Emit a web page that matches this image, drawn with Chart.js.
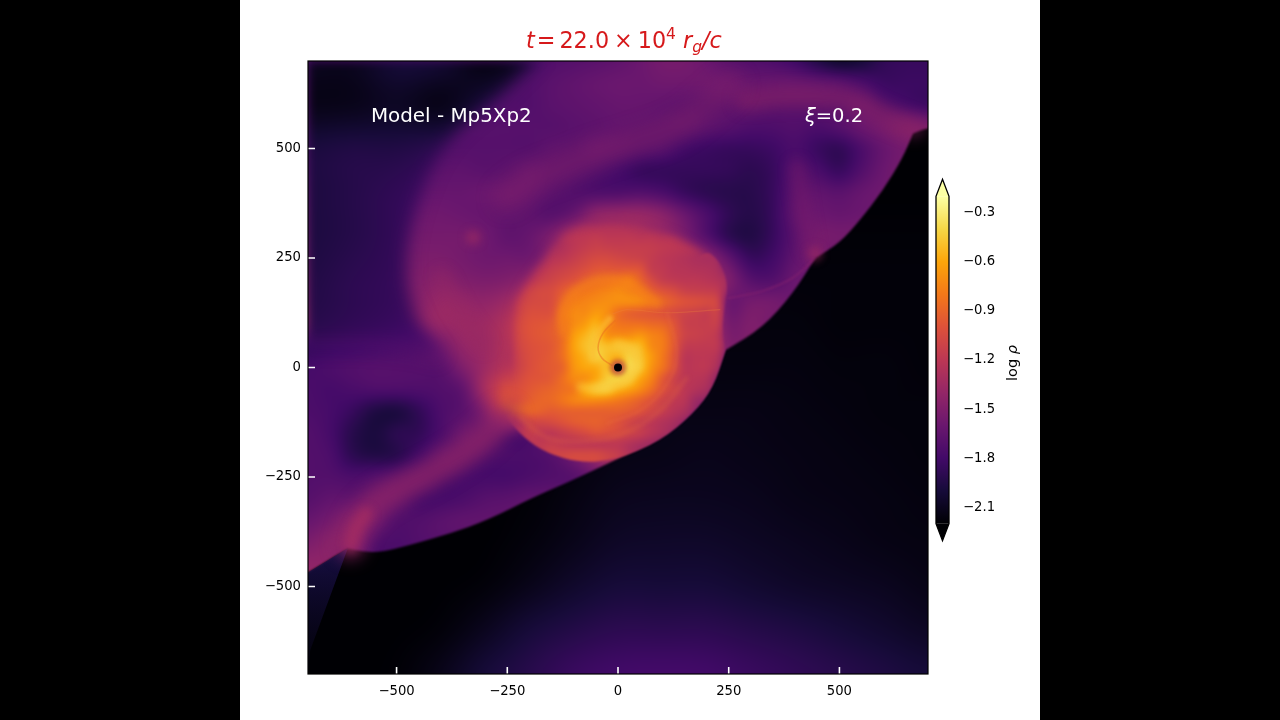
<!DOCTYPE html>
<html><head><meta charset="utf-8">
<script src="https://cdn.jsdelivr.net/npm/chart.js@4"></script>
<style>
html,body{margin:0;padding:0;background:#000;width:1280px;height:720px;overflow:hidden}
#paper{position:absolute;left:240px;top:0;width:800px;height:720px;background:#fff}
#main{position:absolute;left:0;top:0}
#bar{position:absolute;left:925px;top:170px}
</style></head><body>
<div id="paper"></div>
<canvas id="main" width="1280" height="720" style="width:1280px;height:720px"></canvas>
<canvas id="bar" width="115" height="380" style="width:115px;height:380px"></canvas>
<script>
const xTickValues=[-500,-250,0,250,500];
const yTickValues=[-500,-250,0,250,500];
const barTickValues=[-2.1,-1.8,-1.5,-1.2,-0.9,-0.6,-0.3];
const infernoStops=['#000004','#160b39','#420a68','#6a176e','#932667','#bc3754','#dd513a','#f37819','#fca50a','#f6d746','#fcffa4'];
const logRhoMin=-2.2, logRhoMax=-0.2;

// unshocked ambient gas
const ambientX=[-700,-600,-500,-400,-300,-200,-100,0,100,200,300,400,500,600,700];
const ambientY=[700,600,500,400,300,200,100,0,-100,-200,-300,-400,-500,-600,-700];
const ambientRows=[
[-2.2,-2.2,-2.2,-2.2,-2.2,-2.2,-2.2,-2.2,-2.2,-2.2,-2.2,-2.2,-2.2,-2.2,-2.2],
[-2.2,-2.2,-2.2,-2.2,-2.2,-2.2,-2.2,-2.2,-2.2,-2.2,-2.2,-2.2,-2.2,-2.2,-2.2],
[-2.2,-2.2,-2.2,-2.2,-2.2,-2.2,-2.2,-2.2,-2.2,-2.2,-2.2,-2.2,-2.2,-2.2,-2.2],
[-2.2,-2.2,-2.2,-2.2,-2.2,-2.2,-2.2,-2.2,-2.2,-2.2,-2.2,-2.2,-2.2,-2.2,-2.2],
[-2.2,-2.2,-2.2,-2.2,-2.2,-2.2,-2.2,-2.2,-2.2,-2.2,-2.19,-2.19,-2.19,-2.19,-2.19],
[-2.2,-2.2,-2.2,-2.2,-2.2,-2.2,-2.2,-2.2,-2.18,-2.18,-2.18,-2.18,-2.18,-2.18,-2.18],
[-2.2,-2.2,-2.2,-2.2,-2.2,-2.2,-2.2,-2.2,-2.17,-2.17,-2.17,-2.17,-2.18,-2.18,-2.18],
[-2.2,-2.2,-2.2,-2.2,-2.2,-2.2,-2.18,-2.16,-2.16,-2.16,-2.16,-2.16,-2.17,-2.17,-2.18],
[-2.2,-2.2,-2.2,-2.2,-2.2,-2.2,-2.18,-2.15,-2.14,-2.14,-2.14,-2.15,-2.16,-2.17,-2.17],
[-2.2,-2.2,-2.2,-2.2,-2.2,-2.2,-2.17,-2.14,-2.13,-2.12,-2.13,-2.14,-2.15,-2.16,-2.17],
[-2.2,-2.2,-2.2,-2.2,-2.2,-2.19,-2.15,-2.11,-2.1,-2.1,-2.11,-2.13,-2.14,-2.15,-2.16],
[-2.2,-2.2,-2.2,-2.2,-2.2,-2.17,-2.12,-2.07,-2.06,-2.06,-2.08,-2.1,-2.12,-2.14,-2.15],
[-2.2,-2.2,-2.2,-2.2,-2.18,-2.12,-2.05,-2,-2,-2,-2.03,-2.06,-2.08,-2.1,-2.13],
[-2.2,-2.2,-2.2,-2.18,-2.1,-2,-1.94,-1.9,-1.9,-1.9,-1.93,-1.96,-2,-2.04,-2.08],
[-2.2,-2.2,-2.19,-2.12,-2,-1.92,-1.84,-1.8,-1.79,-1.8,-1.84,-1.88,-1.92,-1.96,-2]
];

// dark gas left of the bubble
const darkX=[-700,-600,-500,-400,-300,-200,-100];
const darkY=[700,600,500,400,300,200,100,0];
const darkRows=[
[-2.1,-2.1,-2,-2.02,-2.15,-2.05,-1.85],
[-2.13,-2.12,-2.08,-2.13,-2,-1.9,-1.8],
[-1.98,-1.95,-1.95,-1.9,-1.85,-1.8,-1.75],
[-1.97,-1.93,-1.88,-1.82,-1.8,-1.8,-1.8],
[-1.97,-1.93,-1.87,-1.78,-1.7,-1.7,-1.7],
[-1.95,-1.9,-1.86,-1.78,-1.7,-1.7,-1.7],
[-1.92,-1.88,-1.84,-1.78,-1.7,-1.7,-1.7],
[-1.8,-1.75,-1.72,-1.7,-1.7,-1.7,-1.7]
];
const darkEdgeX=[-165,-237,-296,-364,-418,-463,-479,-470,-436,-386,-470,-760,-760,-760,-760,-165,-165];
const darkEdgeY=[722,648,594,541,466,342,244,153,73,10,45,45,45,760,760,760,760];

// shocked flow
const flowX=[-700,-650,-600,-550,-500,-450,-400,-350,-300,-250,-200,-150,-100,-50,0,50,100,150,200,250,300,350,400,450,500,550,600,650,700];
const flowY=[700,650,600,550,500,450,400,350,300,250,200,150,100,50,0,-50,-100,-150,-200,-250,-300,-350,-400,-450,-500];
const flowRows=[
[-1.75,-1.75,-1.75,-1.75,-1.75,-1.75,-1.75,-1.75,-1.75,-1.75,-1.75,-1.72,-1.7,-1.68,-1.65,-1.6,-1.55,-1.55,-1.6,-1.68,-1.72,-1.75,-1.82,-1.95,-2.05,-2,-1.88,-1.85,-1.85],
[-1.72,-1.72,-1.72,-1.72,-1.72,-1.72,-1.72,-1.72,-1.72,-1.72,-1.72,-1.68,-1.65,-1.62,-1.6,-1.6,-1.58,-1.58,-1.58,-1.6,-1.62,-1.62,-1.62,-1.65,-1.68,-1.75,-1.83,-1.83,-1.83],
[-1.72,-1.72,-1.72,-1.72,-1.72,-1.72,-1.72,-1.72,-1.72,-1.72,-1.72,-1.68,-1.66,-1.64,-1.62,-1.62,-1.64,-1.66,-1.68,-1.66,-1.66,-1.68,-1.68,-1.68,-1.68,-1.62,-1.72,-1.78,-1.82],
[-1.7,-1.7,-1.7,-1.7,-1.7,-1.7,-1.7,-1.7,-1.7,-1.7,-1.7,-1.7,-1.68,-1.66,-1.64,-1.65,-1.66,-1.66,-1.68,-1.7,-1.74,-1.74,-1.72,-1.75,-1.7,-1.6,-1.55,-1.5,-1.5],
[-1.7,-1.7,-1.7,-1.7,-1.7,-1.7,-1.7,-1.7,-1.7,-1.7,-1.7,-1.66,-1.66,-1.62,-1.65,-1.7,-1.72,-1.8,-1.83,-1.85,-1.85,-1.82,-1.76,-1.84,-1.88,-1.75,-1.62,-1.55,-1.55],
[-1.66,-1.66,-1.66,-1.66,-1.66,-1.66,-1.66,-1.66,-1.68,-1.66,-1.62,-1.66,-1.68,-1.72,-1.78,-1.85,-1.86,-1.86,-1.86,-1.87,-1.9,-1.85,-1.72,-1.76,-1.85,-1.72,-1.6,-1.55,-1.55],
[-1.62,-1.62,-1.62,-1.62,-1.62,-1.62,-1.62,-1.62,-1.6,-1.6,-1.62,-1.68,-1.72,-1.74,-1.74,-1.72,-1.76,-1.85,-1.9,-1.92,-1.92,-1.85,-1.68,-1.65,-1.68,-1.62,-1.58,-1.58,-1.58],
[-1.58,-1.58,-1.58,-1.58,-1.58,-1.58,-1.58,-1.6,-1.62,-1.64,-1.66,-1.7,-1.62,-1.42,-1.38,-1.38,-1.45,-1.6,-1.75,-1.88,-1.93,-1.85,-1.65,-1.6,-1.62,-1.6,-1.6,-1.6,-1.6],
[-1.55,-1.55,-1.55,-1.55,-1.55,-1.55,-1.55,-1.55,-1.58,-1.65,-1.62,-1.5,-1.3,-1.25,-1.25,-1.3,-1.38,-1.52,-1.72,-1.9,-1.95,-1.85,-1.68,-1.55,-1.55,-1.55,-1.55,-1.55,-1.55],
[-1.52,-1.52,-1.52,-1.52,-1.52,-1.52,-1.52,-1.55,-1.58,-1.58,-1.58,-1.45,-1.25,-1.2,-1.18,-1.2,-1.25,-1.35,-1.42,-1.65,-1.85,-1.8,-1.65,-1.55,-1.6,-1.6,-1.6,-1.6,-1.6],
[-1.48,-1.48,-1.48,-1.48,-1.48,-1.48,-1.46,-1.5,-1.52,-1.5,-1.42,-1.25,-1.15,-1.1,-1,-1.05,-1.15,-1.25,-1.35,-1.5,-1.7,-1.72,-1.6,-1.6,-1.6,-1.6,-1.6,-1.6,-1.6],
[-1.45,-1.45,-1.45,-1.45,-1.45,-1.45,-1.38,-1.4,-1.42,-1.35,-1.2,-1,-0.95,-0.9,-0.9,-0.9,-1,-1.15,-1.2,-1.6,-1.55,-1.55,-1.6,-1.6,-1.6,-1.6,-1.6,-1.6,-1.6],
[-1.42,-1.42,-1.42,-1.42,-1.42,-1.42,-1.38,-1.36,-1.35,-1.25,-1.05,-0.95,-0.8,-0.7,-0.8,-0.9,-0.95,-1.15,-1.2,-1.55,-1.5,-1.55,-1.55,-1.55,-1.55,-1.55,-1.55,-1.55,-1.55],
[-1.82,-1.8,-1.78,-1.75,-1.72,-1.68,-1.55,-1.4,-1.35,-1.25,-1.1,-0.95,-0.7,-0.5,-0.5,-0.7,-0.95,-1.2,-1.2,-1.5,-1.5,-1.5,-1.5,-1.5,-1.5,-1.5,-1.5,-1.5,-1.5],
[-1.78,-1.75,-1.72,-1.7,-1.7,-1.7,-1.68,-1.5,-1.35,-1.22,-1.05,-0.95,-0.7,-0.55,-0.9,-0.45,-0.85,-1.2,-1.3,-1.5,-1.5,-1.5,-1.5,-1.5,-1.5,-1.5,-1.5,-1.5,-1.5],
[-1.76,-1.78,-1.76,-1.74,-1.74,-1.74,-1.72,-1.65,-1.3,-1.05,-0.95,-0.9,-0.8,-0.45,-0.55,-0.75,-1,-1.3,-1.4,-1.5,-1.5,-1.5,-1.5,-1.5,-1.5,-1.5,-1.5,-1.5,-1.5],
[-1.75,-1.78,-1.85,-1.96,-1.98,-1.88,-1.75,-1.68,-1.48,-1,-0.9,-0.95,-0.92,-0.92,-0.92,-1,-1.15,-1.4,-1.5,-1.5,-1.5,-1.5,-1.5,-1.5,-1.5,-1.5,-1.5,-1.5,-1.5],
[-1.72,-1.78,-1.92,-1.98,-1.9,-1.88,-1.75,-1.62,-1.68,-1.72,-1.68,-1.5,-1.3,-1.1,-1.05,-1.15,-1.3,-1.5,-1.55,-1.5,-1.5,-1.5,-1.5,-1.5,-1.5,-1.5,-1.5,-1.5,-1.5],
[-1.72,-1.75,-1.9,-1.95,-1.92,-1.8,-1.68,-1.72,-1.75,-1.75,-1.75,-1.7,-1.55,-1.35,-1.2,-1.35,-1.5,-1.55,-1.55,-1.5,-1.5,-1.5,-1.5,-1.5,-1.5,-1.5,-1.5,-1.5,-1.5],
[-1.72,-1.72,-1.75,-1.72,-1.72,-1.72,-1.78,-1.78,-1.78,-1.78,-1.75,-1.72,-1.7,-1.6,-1.5,-1.5,-1.5,-1.5,-1.5,-1.5,-1.5,-1.5,-1.5,-1.5,-1.5,-1.5,-1.5,-1.5,-1.5],
[-1.7,-1.65,-1.65,-1.65,-1.68,-1.78,-1.78,-1.75,-1.7,-1.68,-1.65,-1.65,-1.65,-1.65,-1.65,-1.65,-1.65,-1.65,-1.65,-1.65,-1.65,-1.65,-1.65,-1.65,-1.65,-1.65,-1.65,-1.65,-1.65],
[-1.62,-1.55,-1.5,-1.6,-1.72,-1.72,-1.68,-1.65,-1.65,-1.65,-1.65,-1.65,-1.65,-1.65,-1.65,-1.65,-1.65,-1.65,-1.65,-1.65,-1.65,-1.65,-1.65,-1.65,-1.65,-1.65,-1.65,-1.65,-1.65],
[-1.52,-1.45,-1.5,-1.72,-1.75,-1.72,-1.7,-1.7,-1.7,-1.7,-1.7,-1.7,-1.7,-1.7,-1.7,-1.7,-1.7,-1.7,-1.7,-1.7,-1.7,-1.7,-1.7,-1.7,-1.7,-1.7,-1.7,-1.7,-1.7],
[-1.42,-1.45,-1.6,-1.75,-1.75,-1.75,-1.75,-1.75,-1.75,-1.75,-1.75,-1.75,-1.75,-1.75,-1.75,-1.75,-1.75,-1.75,-1.75,-1.75,-1.75,-1.75,-1.75,-1.75,-1.75,-1.75,-1.75,-1.75,-1.75],
[-1.4,-1.45,-1.65,-1.75,-1.75,-1.75,-1.75,-1.75,-1.75,-1.75,-1.75,-1.75,-1.75,-1.75,-1.75,-1.75,-1.75,-1.75,-1.75,-1.75,-1.75,-1.75,-1.75,-1.75,-1.75,-1.75,-1.75,-1.75,-1.75]
];
const flowEdgeX=[-760,-760,-700,-610,-610,-575,-537,-470,-379,-296,-192,-115,-41,0,95,169,214,242,242,327,395,445,445,501,546,598,643,666,666,700,760,760,760,760,-760,-760];
const flowEdgeY=[-505,-505,-468,-413,-413,-421,-422,-406,-379,-349,-297,-263,-228,-208,-167,-105,-46,39,39,91,169,249,249,285,336,404,479,534,534,548,548,548,760,760,760,760];

// inner disc
const coreX=[-250,-225,-200,-175,-150,-125,-100,-75,-50,-25,0,25,50,75,100,125,150,175,200,225,250,275];
const coreY=[350,325,300,275,250,225,200,175,150,125,100,75,50,25,0,-25,-50,-75,-100,-125,-150,-175,-200,-225];
const coreRows=[
[-1.6,-1.6,-1.62,-1.62,-1.6,-1.58,-1.55,-1.55,-1.55,-1.52,-1.5,-1.5,-1.52,-1.55,-1.6,-1.65,-1.7,-1.75,-1.8,-1.85,-1.9,-1.9],
[-1.6,-1.58,-1.55,-1.5,-1.42,-1.38,-1.33,-1.3,-1.3,-1.28,-1.28,-1.3,-1.32,-1.38,-1.42,-1.5,-1.55,-1.65,-1.72,-1.8,-1.88,-1.9],
[-1.6,-1.58,-1.55,-1.48,-1.42,-1.28,-1.22,-1.2,-1.18,-1.2,-1.2,-1.2,-1.22,-1.22,-1.25,-1.25,-1.32,-1.42,-1.55,-1.7,-1.85,-1.9],
[-1.55,-1.52,-1.5,-1.42,-1.32,-1.26,-1.2,-1.16,-1.13,-1.14,-1.15,-1.15,-1.15,-1.16,-1.18,-1.2,-1.22,-1.25,-1.3,-1.5,-1.8,-1.85],
[-1.55,-1.5,-1.45,-1.35,-1.24,-1.2,-1.15,-1.1,-1.06,-1.06,-1.08,-1.1,-1.12,-1.16,-1.2,-1.22,-1.25,-1.28,-1.3,-1.35,-1.75,-1.85],
[-1.5,-1.45,-1.35,-1.24,-1.16,-1.12,-1.08,-1.03,-0.98,-0.97,-0.98,-0.98,-1,-1.15,-1.18,-1.22,-1.23,-1.25,-1.26,-1.3,-1.5,-1.75],
[-1.42,-1.35,-1.25,-1.15,-1.1,-1.05,-1,-0.93,-0.88,-0.85,-0.82,-0.78,-0.9,-1.05,-1.15,-1.18,-1.2,-1.2,-1.22,-1.25,-1.35,-1.72],
[-1.35,-1.25,-1.12,-1.06,-1.04,-0.95,-0.86,-0.82,-0.78,-0.75,-0.72,-0.75,-0.8,-0.92,-1,-1.05,-1.12,-1.14,-1.15,-1.18,-1.4,-1.65],
[-1.32,-1.16,-1.07,-1.05,-1.03,-0.88,-0.78,-0.75,-0.72,-0.7,-0.7,-0.7,-0.72,-0.8,-0.88,-0.95,-1,-1.02,-1.05,-1.1,-1.55,-1.55],
[-1.28,-1.12,-1.03,-1.02,-1,-0.82,-0.72,-0.72,-0.65,-0.7,-0.85,-0.92,-0.95,-0.97,-1,-1.05,-1.1,-1.12,-1.15,-1.12,-1.5,-1.55],
[-1.25,-1.08,-1,-0.98,-0.95,-0.83,-0.72,-0.65,-0.55,-0.72,-0.82,-0.84,-0.85,-0.88,-0.9,-0.98,-1.12,-1.14,-1.15,-1.15,-1.5,-1.55],
[-1.25,-1.08,-1,-0.97,-0.94,-0.86,-0.65,-0.55,-0.48,-0.7,-0.72,-0.72,-0.68,-0.75,-0.8,-0.95,-1.1,-1.13,-1.15,-1.2,-1.5,-1.5],
[-1.28,-1.1,-1.02,-0.99,-0.96,-0.85,-0.62,-0.5,-0.45,-0.5,-0.48,-0.5,-0.52,-0.72,-0.78,-0.95,-1.15,-1.17,-1.18,-1.2,-1.45,-1.5],
[-1.3,-1.12,-1.03,-0.99,-0.95,-0.85,-0.65,-0.55,-0.42,-0.5,-0.55,-0.42,-0.48,-0.65,-0.8,-0.98,-1.2,-1.2,-1.2,-1.25,-1.5,-1.5],
[-1.25,-1.12,-1.03,-0.98,-0.95,-0.9,-0.68,-0.6,-0.58,-0.5,-0.7,-0.38,-0.45,-0.68,-0.82,-1,-1.2,-1.2,-1.2,-1.3,-1.55,-1.5],
[-1.15,-1.07,-1,-0.98,-0.95,-0.85,-0.72,-0.7,-0.6,-0.45,-0.4,-0.42,-0.6,-0.75,-0.95,-1.1,-1.2,-1.22,-1.25,-1.4,-1.5,-1.5],
[-1.05,-1.02,-0.97,-0.93,-0.9,-0.85,-0.8,-0.6,-0.45,-0.42,-0.55,-0.62,-0.72,-0.85,-1,-1.1,-1.2,-1.25,-1.3,-1.42,-1.5,-1.5],
[-1.02,-1,-0.94,-0.9,-0.88,-0.82,-0.75,-0.72,-0.72,-0.75,-0.8,-0.85,-0.92,-1,-1.1,-1.18,-1.22,-1.35,-1.4,-1.5,-1.5,-1.5],
[-0.95,-0.92,-0.9,-0.92,-0.95,-0.93,-0.92,-0.92,-0.92,-0.92,-0.92,-0.95,-1,-1.08,-1.15,-1.22,-1.28,-1.4,-1.55,-1.55,-1.5,-1.5],
[-1.25,-1.2,-1.1,-1.08,-1.05,-1,-0.95,-0.93,-0.92,-0.95,-1,-1.08,-1.15,-1.2,-1.25,-1.3,-1.38,-1.5,-1.55,-1.55,-1.55,-1.55],
[-1.3,-1.25,-1.15,-1.18,-1.2,-1.15,-1.1,-1.05,-1,-1.02,-1.05,-1.1,-1.15,-1.22,-1.28,-1.35,-1.45,-1.55,-1.55,-1.55,-1.55,-1.55],
[-1.3,-1.28,-1.2,-1.18,-1.15,-1.18,-1.2,-1.2,-1.2,-1.2,-1.2,-1.25,-1.3,-1.35,-1.42,-1.5,-1.55,-1.55,-1.55,-1.55,-1.55,-1.55],
[-1.3,-1.28,-1.2,-1.15,-1.1,-1.08,-1.05,-1.05,-1.05,-1.1,-1.15,-1.25,-1.35,-1.42,-1.5,-1.55,-1.55,-1.55,-1.55,-1.55,-1.55,-1.55],
[-1.3,-1.28,-1.2,-1.15,-1.12,-1.1,-1.08,-1.08,-1.08,-1.12,-1.18,-1.28,-1.38,-1.45,-1.5,-1.55,-1.55,-1.55,-1.55,-1.55,-1.55,-1.55]
];
const coreSharpX=[-251,-251,-214,-160,-86,-11,95,169,214,242,242,235,244,244,248,230,192,95,5,-131,-221];
const coreSharpY=[-114,-114,-160,-196,-217,-212,-167,-105,-46,39,39,96,153,153,192,244,272,153,62,-30,-87];
const coreSoftX=[-251,-131,5,140,208,212,212,169,65,-47,-131,-176,-221,-239,-244,-255,-255];
const coreSoftY=[-103,-155,-144,-53,62,176,240,283,329,336,306,240,180,130,50,-30,-80];

// ridges, arms and lanes
const armYellowX=[-85,-60,-34,11,38,34,-2];
const armYellowY=[-44,-48,-46,-34,0,39,55];
const spineX=[-18,-41,-54,-56];
const spineY=[112,84,50,21];
const laneX=[-7,-34,-45,-36,-14];
const laneY=[107,78,46,21,5];
const seamX=[-11,20,110,230];
const seamY=[123,132,125,132];
const upperShockX=[248,327,395,445];
const upperShockY=[158,175,205,249];
const ringArcX=[-124,-124,-93,-41,20,88];
const ringArcY=[78,130,176,199,192,146];
const lobeEdgeX=[111,133,111,50,-25];
const lobeEdgeY=[126,32,-37,-98,-128];
const lowerBandX=[-221,-160,-63,11,95,156];
const lowerBandY=[-114,-160,-167,-151,-98,-23];
const ridgeSouthX=[-255,-311,-367,-434,-501,-553,-585,-605];
const ridgeSouthY=[-114,-167,-208,-247,-281,-315,-354,-406];
const ridgeFootX=[-570,-590,-603];
const ridgeFootY=[-335,-365,-405];
const ridgeNorthX=[-251,-199,-131,-41,50,140,253];
const ridgeNorthY=[388,427,454,489,518,553,644];
const ridgeEastX=[287,388,524,603,670];
const ridgeEastY=[610,619,610,575,548];
const ridgeWestX=[-395,-357,-305];
const ridgeWestY=[205,130,55];
const ridgeInnerX=[404,418,434];
const ridgeInnerY=[457,358,267];
const hotX=[-327,445], hotY=[297,260];
const holeX=[0], holeY=[0];
const wedgeX=[-610,-700,-700,-695];
const wedgeY=[-413,-468,-700,-646];

function hex(h){return [1,3,5].map(i=>parseInt(h.substr(i,2),16));}
const stopRGB=infernoStops.map(hex);
function cmap(v){
  let t=(v-logRhoMin)/(logRhoMax-logRhoMin)*10;
  t=Math.max(0,Math.min(9.9999,t));
  const i=Math.floor(t),f=t-i,a=stopRGB[i],b=stopRGB[i+1];
  return [a[0]+(b[0]-a[0])*f,a[1]+(b[1]-a[1])*f,a[2]+(b[2]-a[2])*f];
}
function catmull(a,b,c,d,t){return b+0.5*t*(c-a+t*(2*a-5*b+4*c-d+t*(3*(b-c)+d-a)));}
function sample(xs,ys,rows,x,y){
  const fx=Math.max(0,Math.min(xs.length-1.0001,(x-xs[0])/(xs[1]-xs[0])));
  const fy=Math.max(0,Math.min(ys.length-1.0001,(y-ys[0])/(ys[1]-ys[0])));
  const ix=Math.floor(fx),iy=Math.floor(fy),tx=fx-ix,ty=fy-iy;
  const col=[];
  for(let j=-1;j<=2;j++){
    const r=rows[Math.max(0,Math.min(ys.length-1,iy+j))];
    const g=k=>r[Math.max(0,Math.min(xs.length-1,ix+k))];
    col.push(catmull(g(-1),g(0),g(1),g(2),tx));
  }
  return catmull(col[0],col[1],col[2],col[3],ty);
}
function toPoints(xs,ys){return xs.map((x,i)=>({x:x,y:ys[i]}));}
function gridPoints(xs,ys,rows){const o=[];rows.forEach((r,j)=>r.forEach((v,i)=>o.push({x:xs[i],y:ys[j],v:v})));return o;}
function newCanvas(w,h){const c=document.createElement('canvas');c.width=w;c.height=h;return c;}

function raster(chart,xs,ys,rows,blur){
  const a=chart.chartArea,sx=chart.scales.x,sy=chart.scales.y,M=24;
  const W=Math.round(a.right-a.left),H=Math.round(a.bottom-a.top),w=W+2*M,h=H+2*M;
  const c=newCanvas(w,h),g=c.getContext('2d'),img=g.createImageData(w,h);
  const dx=[],dy=[];
  for(let i=0;i<w;i++)dx.push(sx.getValueForPixel(a.left-M+i+0.5));
  for(let j=0;j<h;j++)dy.push(sy.getValueForPixel(a.top-M+j+0.5));
  for(let j=0;j<h;j++)for(let i=0;i<w;i++){
    const p=cmap(sample(xs,ys,rows,dx[i],dy[j]));
    const k=(j*w+i)*4;img.data[k]=p[0];img.data[k+1]=p[1];img.data[k+2]=p[2];img.data[k+3]=255;
  }
  g.putImageData(img,0,0);
  const o=newCanvas(W,H),og=o.getContext('2d');
  og.filter='blur('+blur+'px)';og.drawImage(c,-M,-M);
  return o;
}
function polyPath(chart,g,xs,ys){
  const a=chart.chartArea,sx=chart.scales.x,sy=chart.scales.y;
  const P=xs.map((x,i)=>[sx.getPixelForValue(x)-a.left,sy.getPixelForValue(ys[i])-a.top]),n=P.length;
  const mid=(p,q)=>[(p[0]+q[0])/2,(p[1]+q[1])/2];
  g.beginPath();
  const s=mid(P[n-1],P[0]);g.moveTo(s[0],s[1]);
  for(let i=0;i<n;i++){const m=mid(P[i],P[(i+1)%n]);g.quadraticCurveTo(P[i][0],P[i][1],m[0],m[1]);}
  g.closePath();
}
function applyMask(chart,target,polys){
  const m=newCanvas(target.width,target.height),mg=m.getContext('2d');
  polys.forEach(p=>{mg.filter='blur('+p[2]+'px)';mg.fillStyle='#000';polyPath(chart,mg,p[0],p[1]);mg.fill();});
  const g=target.getContext('2d');
  g.globalCompositeOperation='destination-in';g.filter='none';g.drawImage(m,0,0);
  g.globalCompositeOperation='source-over';
}

const heatPlugin={
  id:'heat',
  beforeDatasetsDraw(chart){
    const a=chart.chartArea,c=chart.ctx;
    c.drawImage(raster(chart,ambientX,ambientY,ambientRows,8),a.left,a.top);
    const flow=raster(chart,flowX,flowY,flowRows,5);
    const dark=raster(chart,darkX,darkY,darkRows,6);
    applyMask(chart,dark,[[darkEdgeX,darkEdgeY,7]]);
    flow.getContext('2d').drawImage(dark,0,0);
    applyMask(chart,flow,[[flowEdgeX,flowEdgeY,1]]);
    c.drawImage(flow,a.left,a.top);
    const core=raster(chart,coreX,coreY,coreRows,2.5);
    applyMask(chart,core,[[coreSoftX,coreSoftY,5],[coreSharpX,coreSharpY,1.2]]);
    c.drawImage(core,a.left,a.top);
  },
  beforeDatasetDraw(chart,args){
    const b=chart.data.datasets[args.index].softPx;
    chart.ctx.filter=b?'blur('+b+'px)':'none';
  },
  afterDatasetDraw(chart){chart.ctx.filter='none';},
  afterDraw(chart){
    const c=chart.ctx,a=chart.chartArea,sx=chart.scales.x,sy=chart.scales.y;
    c.save();
    c.strokeStyle='#fff';c.lineWidth=1.6;c.beginPath();
    xTickValues.forEach(v=>{const p=sx.getPixelForValue(v);c.moveTo(p,a.bottom);c.lineTo(p,a.bottom-7);});
    yTickValues.forEach(v=>{const p=sy.getPixelForValue(v);c.moveTo(a.left,p);c.lineTo(a.left+7,p);});
    c.stroke();
    c.strokeStyle='#000';c.lineWidth=1.2;c.strokeRect(a.left,a.top,a.right-a.left,a.bottom-a.top);
    const fam='"DejaVu Sans"';
    c.textBaseline='alphabetic';c.textAlign='left';
    c.fillStyle='#fff';c.font='19.9px '+fam;
    c.fillText('Model - Mp5Xp2',sx.getPixelForValue(-558),sy.getPixelForValue(560));
    const xi=sx.getPixelForValue(422),yi=sy.getPixelForValue(560);
    c.font='italic 19.5px '+fam;c.fillText('ξ',xi,yi);const w=c.measureText('ξ').width;
    c.font='19.5px '+fam;c.fillText('=0.2',xi+w,yi);
    c.fillStyle='#d6191b';
    let x=526;const base=48;
    const put=(s,font,dy,gap)=>{c.font=font;c.fillText(s,x,base+(dy||0));x+=c.measureText(s).width+(gap||0);};
    const it='italic 22.3px '+fam,rm='22.3px '+fam;
    put('t',it,0,2);put('=',rm,0,4);put('22.0',rm,0,5);put('×',rm,0,5);put('10',rm,0,0);
    put('4','15.5px '+fam,-9,7);put('r',it,0,0);put('g','italic 15.5px '+fam,4,0);put('/c',it,0,0);
    c.restore();
  }
};

const minusFmt=v=>String(v).replace('-','\u2212');
const softLine=(label,xs,ys,color,width,soft,tension)=>({label,data:toPoints(xs,ys),showLine:true,tension:tension===undefined?0.4:tension,borderColor:color,borderWidth:width,pointRadius:0,softPx:soft,borderCapStyle:'round'});
new Chart(document.getElementById('main'),{
  type:'scatter',
  plugins:[heatPlugin],
  data:{datasets:[
    {label:'hole',data:toPoints(holeX,holeY),pointRadius:4,backgroundColor:'#000004',borderWidth:0,softPx:0.5},
    {label:'hole halo',data:toPoints(holeX,holeY),pointRadius:8,backgroundColor:'rgba(170,60,90,0.6)',borderWidth:0,softPx:2},
    softLine('lane',laneX,laneY,'rgba(235,110,30,0.5)',1.5,0.6),
    softLine('spine',spineX,spineY,'rgba(252,190,50,0.7)',6,2),
    softLine('yellow arm',armYellowX,armYellowY,'rgba(250,200,60,0.65)',7,3),
    softLine('seam',seamX,seamY,'rgba(240,130,60,0.3)',1.2,0.6,0.3),
    softLine('lobe edge',lobeEdgeX,lobeEdgeY,'rgba(235,110,60,0.35)',2,1.5),
    softLine('lower band',lowerBandX,lowerBandY,'rgba(235,110,60,0.3)',3,2),
    softLine('ring arc',ringArcX,ringArcY,'rgba(245,130,25,0.55)',8,3),
    softLine('upper shock',upperShockX,upperShockY,'rgba(150,40,110,0.45)',1.5,0.8,0.3),
    {label:'hot spots',data:toPoints(hotX,hotY),pointRadius:7,backgroundColor:'rgba(165,45,95,0.55)',borderWidth:0,softPx:4},
    softLine('ridge foot',ridgeFootX,ridgeFootY,'rgba(175,48,95,0.55)',14,4.5),
    softLine('ridge south',ridgeSouthX,ridgeSouthY,'rgba(145,38,102,0.72)',28,8),
    softLine('ridge north',ridgeNorthX,ridgeNorthY,'rgba(130,33,105,0.42)',26,9),
    softLine('ridge east',ridgeEastX,ridgeEastY,'rgba(140,35,100,0.5)',20,7),
    softLine('ridge west',ridgeWestX,ridgeWestY,'rgba(150,40,100,0.3)',18,6),
    softLine('ridge inner',ridgeInnerX,ridgeInnerY,'rgba(125,30,105,0.35)',16,6),
    {label:'wedge',data:toPoints(wedgeX,wedgeY),showLine:true,fill:'shape',borderWidth:0,pointRadius:0,softPx:1,
      backgroundColor(ctx){
        const ch=ctx.chart;if(!ch.chartArea)return 'rgba(0,0,0,0)';
        const y=ch.scales.y,g=ch.ctx.createLinearGradient(0,y.getPixelForValue(-413),0,y.getPixelForValue(-700));
        g.addColorStop(0,'rgba(26,16,75,0.9)');g.addColorStop(1,'rgba(10,6,30,0.3)');return g;
      }},
    {label:'core log rho',data:gridPoints(coreX,coreY,coreRows),pointRadius:0},
    {label:'dark log rho',data:gridPoints(darkX,darkY,darkRows),pointRadius:0},
    {label:'flow log rho',data:gridPoints(flowX,flowY,flowRows),pointRadius:0},
    {label:'ambient log rho',data:gridPoints(ambientX,ambientY,ambientRows),pointRadius:0}
  ]},
  options:{
    responsive:false,animation:false,events:[],
    layout:{padding:{left:240,right:352,top:61,bottom:16}},
    plugins:{legend:{display:false},tooltip:{enabled:false},title:{display:false}},
    scales:{
      x:{type:'linear',min:-700,max:700,grid:{display:false,drawTicks:false},border:{display:false},
        afterBuildTicks(s){s.ticks=xTickValues.map(v=>({value:v}));},
        afterFit(s){s.height=30;},
        ticks:{autoSkip:false,maxRotation:0,color:'#000',font:{family:'"DejaVu Sans"',size:13.2},padding:10,callback:minusFmt}},
      y:{type:'linear',min:-700,max:700,grid:{display:false,drawTicks:false},border:{display:false},
        afterBuildTicks(s){s.ticks=yTickValues.map(v=>({value:v}));},
        afterFit(s){s.width=68;},
        ticks:{autoSkip:false,color:'#000',font:{family:'"DejaVu Sans"',size:13.2},padding:7,callback:minusFmt}}
    }
  }
});

const barPlugin={
  id:'barcaps',
  afterDatasetsDraw(chart){
    const c=chart.ctx,a=chart.chartArea,y=chart.scales.y;
    const top=y.getPixelForValue(logRhoMax),bot=y.getPixelForValue(logRhoMin);
    const mid=(a.left+a.right)/2,tip=17;
    c.save();
    c.fillStyle=infernoStops[10];c.beginPath();c.moveTo(a.left,top);c.lineTo(mid,top-tip);c.lineTo(a.right,top);c.closePath();c.fill();
    c.fillStyle=infernoStops[0];c.beginPath();c.moveTo(a.left,bot);c.lineTo(mid,bot+tip);c.lineTo(a.right,bot);c.closePath();c.fill();
    c.strokeStyle='#000';c.lineWidth=1.3;c.beginPath();
    c.moveTo(mid,top-tip);c.lineTo(a.right,top);c.lineTo(a.right,bot);c.lineTo(mid,bot+tip);c.lineTo(a.left,bot);c.lineTo(a.left,top);c.closePath();c.stroke();
    c.fillStyle='#000';c.font='14.5px "DejaVu Sans"';c.textBaseline='middle';
    c.translate(88,193);c.rotate(-Math.PI/2);c.textAlign='left';
    const w1=c.measureText('log ').width;
    c.fillText('log ',-18,0);c.font='italic 14.5px "DejaVu Sans"';c.fillText('ρ',-18+w1,0);
    c.restore();
  }
};
new Chart(document.getElementById('bar'),{
  type:'bar',
  plugins:[barPlugin],
  data:{labels:['log rho'],datasets:[{
    data:[[logRhoMin,logRhoMax]],
    barPercentage:1,categoryPercentage:1,borderWidth:0,
    backgroundColor(ctx){
      const ca=ctx.chart.chartArea;if(!ca)return '#000';
      const y=ctx.chart.scales.y;
      const g=ctx.chart.ctx.createLinearGradient(0,y.getPixelForValue(logRhoMin),0,y.getPixelForValue(logRhoMax));
      infernoStops.forEach((s,i)=>g.addColorStop(i/10,s));
      return g;
    }
  }]},
  options:{
    responsive:false,animation:false,events:[],
    layout:{padding:{left:11,right:0,top:26.3,bottom:26.3}},
    plugins:{legend:{display:false},tooltip:{enabled:false}},
    scales:{
      x:{display:false,grid:{display:false}},
      y:{type:'linear',position:'right',min:logRhoMin,max:logRhoMax,
        grid:{display:false,drawOnChartArea:false,drawTicks:true,tickLength:6,tickColor:'#000',tickWidth:1.2},
        border:{display:false},
        afterBuildTicks(s){s.ticks=barTickValues.map(v=>({value:v}));},
        afterFit(s){s.width=91;},
        ticks:{autoSkip:false,color:'#000',font:{family:'"DejaVu Sans"',size:13.2},padding:8,callback:v=>minusFmt(v.toFixed(1))}}
    }
  }
});
</script>
</body></html>
